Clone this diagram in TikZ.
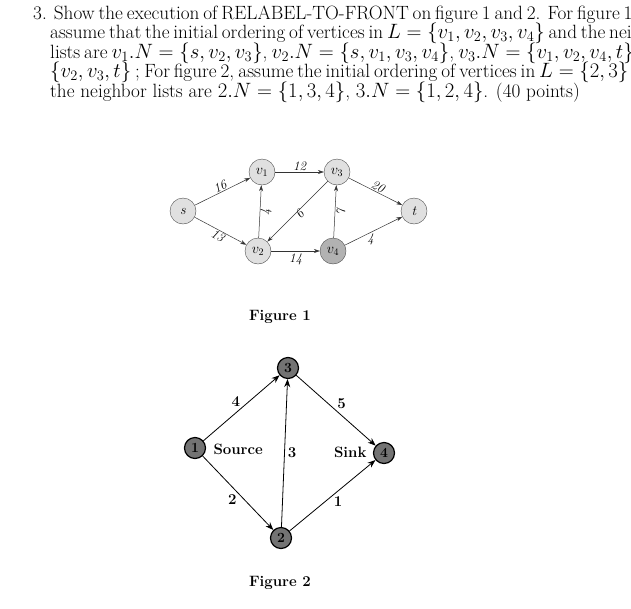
\documentclass[tikz,border=0pt]{standalone}
\usetikzlibrary{arrows.meta}
\begin{document}
\begin{tikzpicture}[x=1pt,y=-1pt,
  tl/.style={anchor=base west,inner sep=0pt,font=\fontsize{19.2}{22}\selectfont},
  fa/.style={circle,draw=black!70,fill=black!12,minimum size=26pt,inner sep=0pt,font=\fontsize{14}{16}\selectfont\itshape},
  fb/.style={circle,draw=black,line width=1.2pt,fill=black!55,minimum size=21pt,inner sep=0pt,font=\bfseries\fontsize{14}{16}\selectfont},
  ea/.style={-{Stealth[length=6pt,width=4pt]},draw=black!80,line width=0.5pt},
  eb/.style={-{Stealth[length=8pt,width=6pt]},line width=0.8pt},
  la/.style={font=\fontsize{13}{15}\selectfont\itshape,inner sep=1pt},
  lb/.style={font=\bfseries\fontsize{15}{17}\selectfont,inner sep=1pt}]
\useasboundingbox (0,0) rectangle (631,608);
\node[tl] (l1) at (33,19) {\hbox to 588pt{3. Show the execution of RELABEL-TO-FRONT on figure 1 and 2. For figure 1,}};
\node[tl] (l2) at (50,38.5) {\hbox to 571pt{assume that the initial ordering of vertices in $L=\{v_1,v_2,v_3,v_4\}$ and the neighbor}};
\node[tl] (l3) at (50,58) {\hbox to 571pt{lists are $v_1.N=\{s,v_2,v_3\}$, $v_2.N=\{s,v_1,v_3,v_4\}$, $v_3.N=\{v_1,v_2,v_4,t\}$, $v_4.N=$}};
\node[tl] (l4) at (50,77.5) {\hbox to 571pt{$\{v_2,v_3,t\}$ ; For figure 2, assume the initial ordering of vertices in $L=\{2,3\}$ and}};
\node[tl] (l5) at (50,97) {the neighbor lists are $2.N=\{1,3,4\}$, $3.N=\{1,2,4\}$. (40 points)};
% figure 1
\node[fa] (s) at (183,211) {s};
\node[fa] (v1) at (262,172) {$v_1$};
\node[fa] (v3) at (337,172) {$v_3$};
\node[fa] (t) at (414,211) {t};
\node[fa] (v2) at (258,251) {$v_2$};
\node[fa,fill=black!30] (v4) at (333,251) {$v_4$};
\draw[ea] (s) -- node[la,above,sloped] {16} (v1);
\draw[ea] (s) -- node[la,below,sloped] {13} (v2);
\draw[ea] (v1) -- node[la,above] {12} (v3);
\draw[ea] (v3) -- node[la,above,sloped] {20} (t);
\draw[ea] (v2) -- (v1);
\node[la,rotate=90] (n4a) at (266,212) {4};
\draw[ea] (v3) -- (v2);
\node[la,rotate=-130] (n9) at (301,213) {9};
\draw[ea] (v4) -- (v3);
\node[la,rotate=90] (n7) at (341,212) {7};
\draw[ea] (v2) -- node[la,below=2pt] {14} (v4);
\draw[ea] (v4) -- node[la,below,pos=0.45] {4} (t);
\node[font=\bfseries\fontsize{15}{17}\selectfont] (f1) at (280,317) {Figure 1};
% figure 2
\node[fb] (n3) at (288,368) {3};
\node[fb] (n1) at (195,448) {1};
\node[fb] (n4) at (384,453) {4};
\node[fb] (n2) at (281,538) {2};
\draw[eb] (n1) -- node[lb,above left] {4} (n3);
\draw[eb] (n1) -- node[lb,below left] {2} (n2);
\draw[eb] (n2) -- node[lb,right=2pt] {3} (n3);
\draw[eb] (n3) -- node[lb,above right] {5} (n4);
\draw[eb] (n2) -- node[lb,below right] {1} (n4);
\node[font=\bfseries\fontsize{15}{17}\selectfont,anchor=west] (src) at (210,449) {Source};
\node[font=\bfseries\fontsize{15}{17}\selectfont,anchor=east] (snk) at (370,452) {Sink};
\node[font=\bfseries\fontsize{15}{17}\selectfont] (f2) at (280,583) {Figure 2};
\end{tikzpicture}
\end{document}
